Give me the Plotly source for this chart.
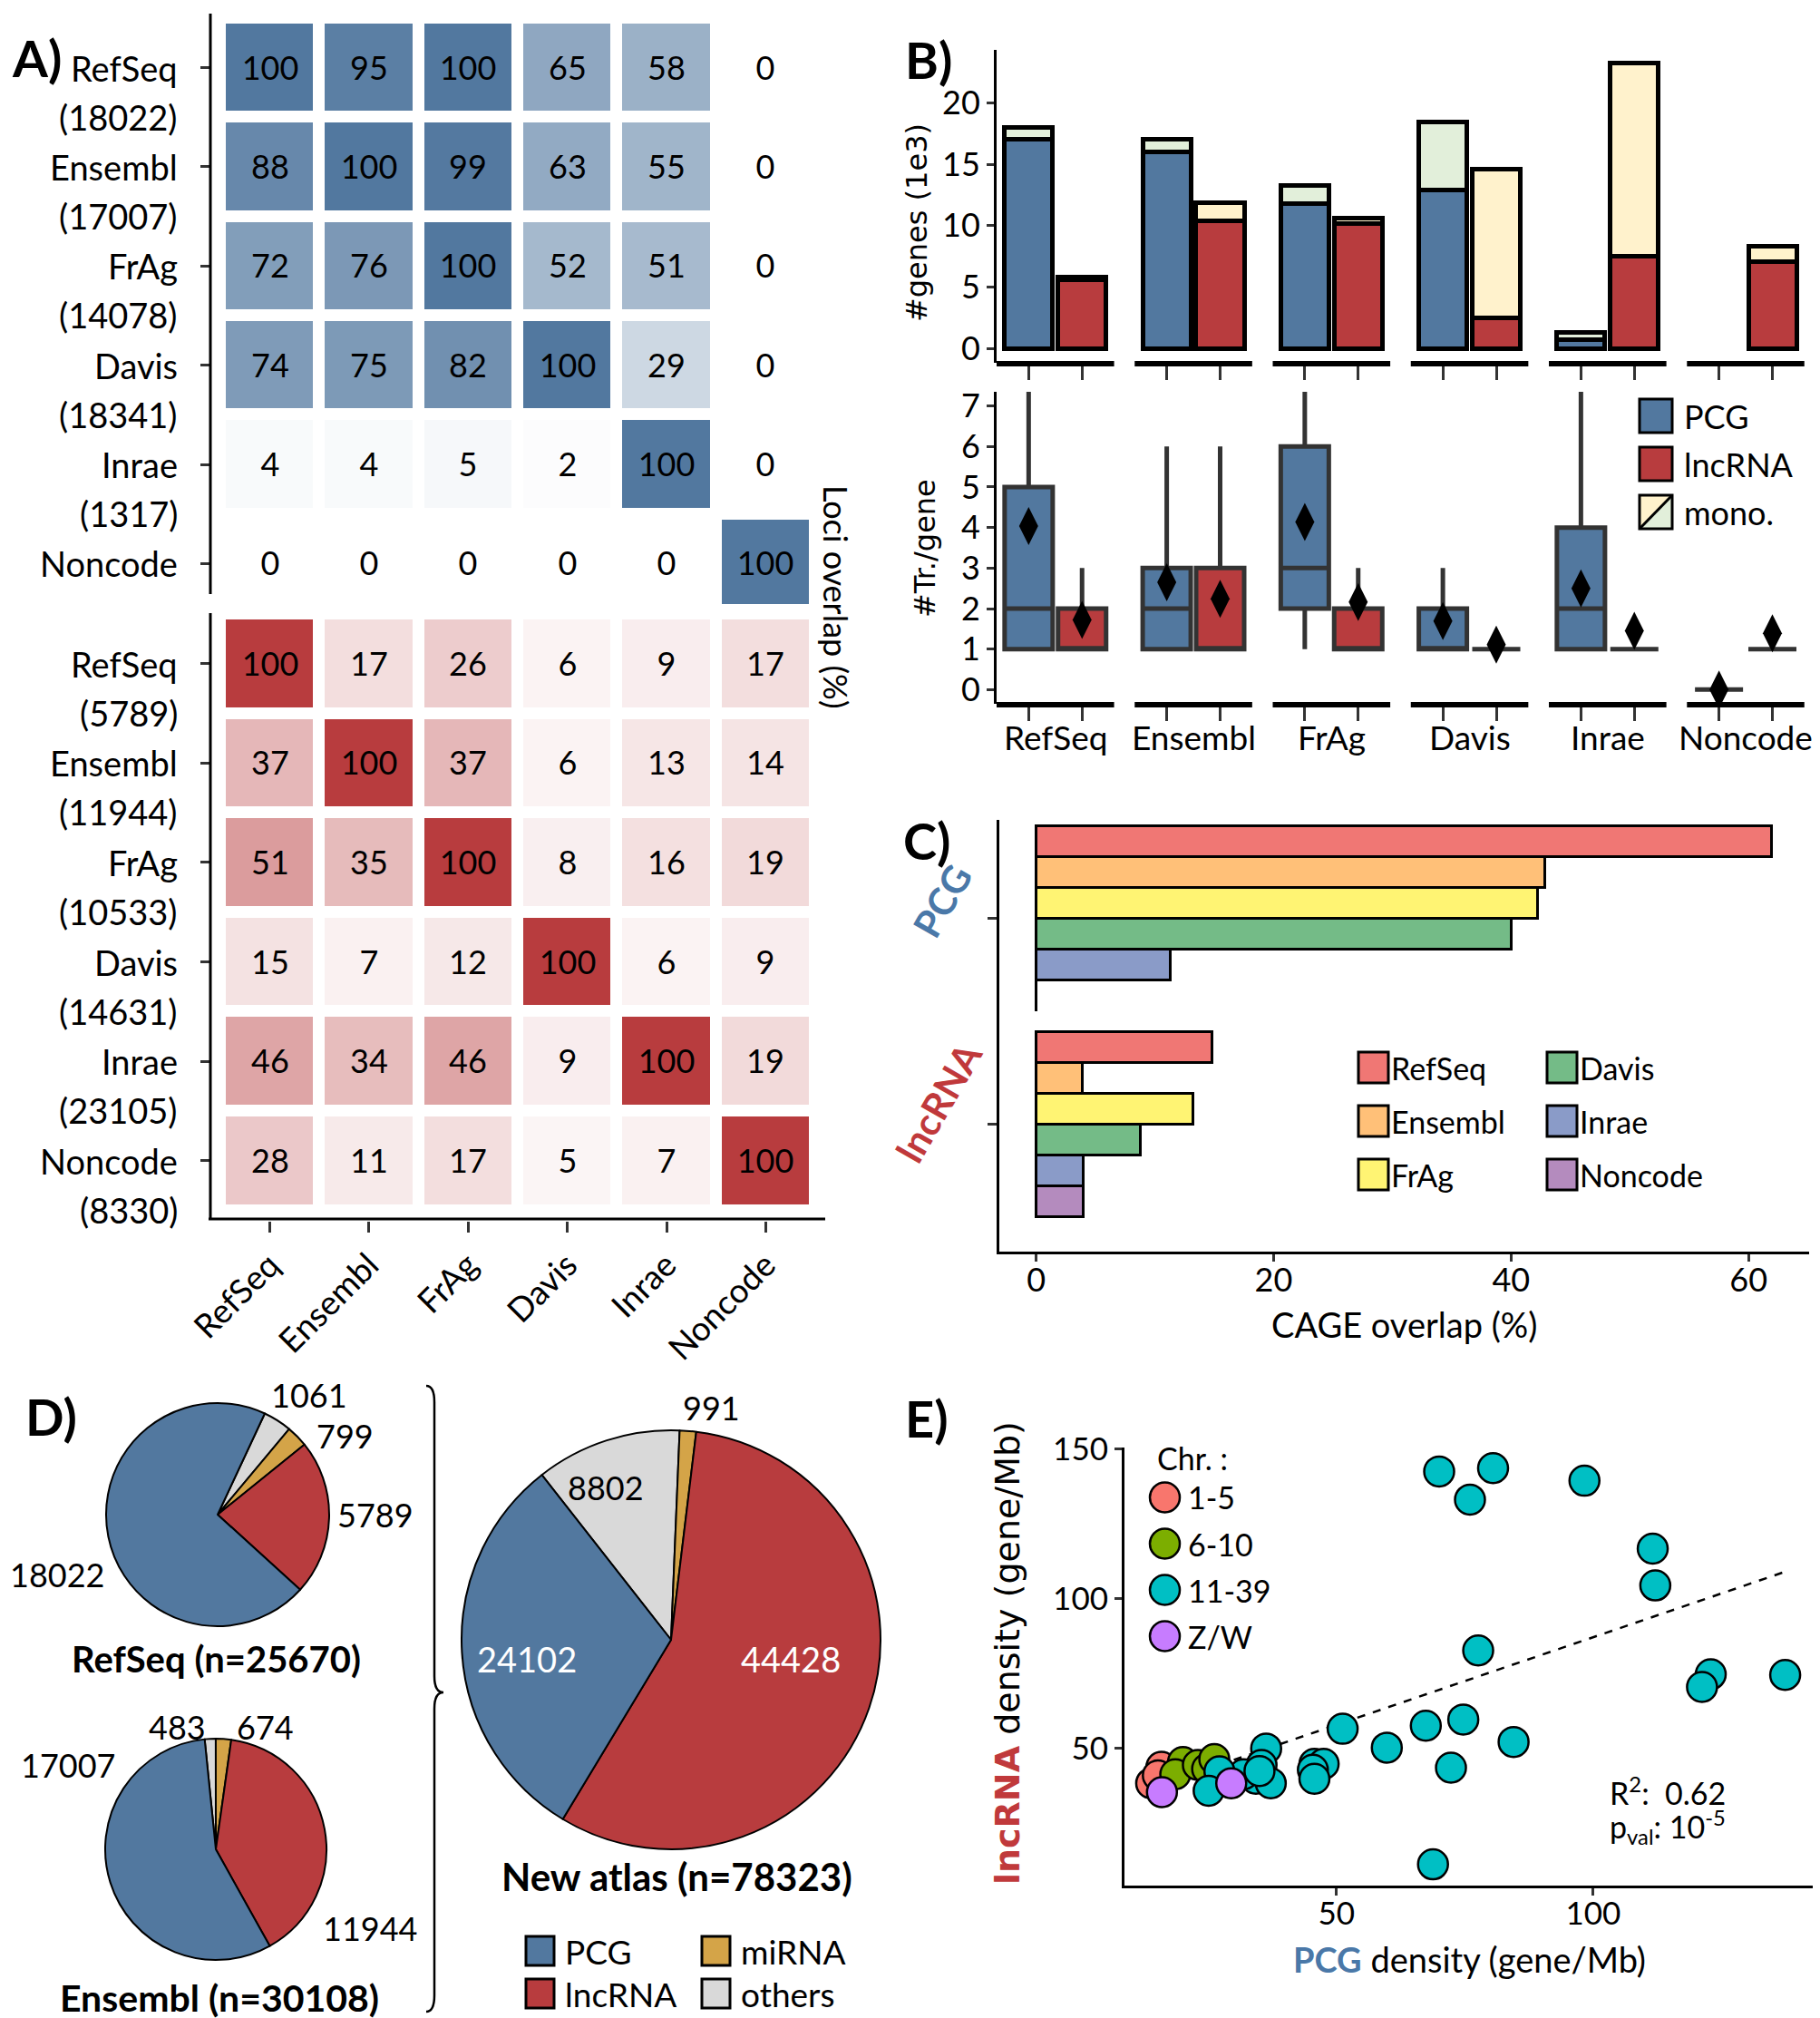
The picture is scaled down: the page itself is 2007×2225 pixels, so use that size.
import plotly.graph_objects as go

# ---------------- data ----------------
sources = ["RefSeq", "Ensembl", "FrAg", "Davis", "Inrae", "Noncode"]
pcg_loci = ["18022", "17007", "14078", "18341", "1317", ""]
lnc_loci = ["5789", "11944", "10533", "14631", "23105", "8330"]

# A) loci overlap (%), rows / columns in `sources` order
pcg_overlap = [
    [100, 95, 100, 65, 58, 0],
    [88, 100, 99, 63, 55, 0],
    [72, 76, 100, 52, 51, 0],
    [74, 75, 82, 100, 29, 0],
    [4, 4, 5, 2, 100, 0],
    [0, 0, 0, 0, 0, 100],
]
lnc_overlap = [
    [100, 17, 26, 6, 9, 17],
    [37, 100, 37, 6, 13, 14],
    [51, 35, 100, 8, 16, 19],
    [15, 7, 12, 100, 6, 9],
    [46, 34, 46, 9, 100, 19],
    [28, 11, 17, 5, 7, 100],
]

# B) number of genes (1e3), multi-exonic + mono-exonic
pcg_multi = [17.0, 16.0, 11.8, 12.9, 0.7, 0]
pcg_mono = [1.0, 1.0, 1.5, 5.5, 0.6, 0]
lnc_multi = [5.6, 10.4, 10.2, 2.5, 7.5, 7.1]
lnc_mono = [0.2, 1.5, 0.4, 12.1, 15.7, 1.2]

# B) transcripts per gene (box stats + mean)
pcg_q1 = [1, 1, 2, 1, 1, 0]
pcg_med = [2, 2, 3, 1, 2, 0]
pcg_q3 = [5, 3, 6, 2, 4, 0]
pcg_lo = [1, 1, 1, 1, 1, 0]
pcg_hi = [11, 6, 12, 3, 8, 0]
pcg_mean = [4.04, 2.65, 4.14, 1.69, 2.5, 0.0]
lnc_q1 = [1, 1, 1, 1, 1, 1]
lnc_med = [1, 1, 1, 1, 1, 1]
lnc_q3 = [2, 3, 2, 1, 1, 1]
lnc_lo = [1, 1, 1, 1, 1, 1]
lnc_hi = [3, 6, 3, 1, 1, 1]
lnc_mean = [1.72, 2.24, 2.16, 1.11, 1.45, 1.39]

# C) CAGE overlap (%)
cage_pcg = [61.9, 42.8, 42.2, 40.0, 11.3, 0]
cage_lnc = [14.8, 3.9, 13.2, 8.8, 4.0, 4.0]
cage_colors = ["#f07774", "#ffc078", "#fff473", "#74bb87", "#8a9bc8", "#b48bbe"]

# D) gene biotypes: PCG, lncRNA, miRNA, others
biotypes = ["PCG", "lncRNA", "miRNA", "others"]
refseq_pie = [18022, 5789, 799, 1061]
ensembl_pie = [17007, 11944, 674, 483]
atlas_pie = [24102, 44428, 991, 8802]
pie_names = ["RefSeq", "Ensembl", "New atlas"]
pie_totals = [25670, 30108, 78323]

# E) density per chromosome (gene/Mb)
chr_groups = ["1-5", "6-10", "11-39", "Z/W"]
pcg_dens = [
    [15.9, 13.9, 15.2],
    [20.1, 18.6, 23.0, 24.8, 26.2],
    [70.0, 80.5, 76.0, 98.3, 111.6, 112.1, 77.6, 122.9, 121.2, 137.4, 51.2, 67.4,
     74.7, 59.8, 84.5, 72.3, 68.8, 45.7, 47.5, 45.4, 45.7, 36.3, 35.4, 34.3, 37.2,
     31.9, 27.2, 25.1, 35.0],
    [16.0, 29.5],
]
lnc_dens = [
    [43.9, 38.4, 41.0],
    [45.5, 41.4, 44.5, 43.2, 46.5],
    [142.6, 143.7, 133.2, 139.5, 116.8, 104.5, 82.8, 74.8, 70.6, 74.6, 56.6, 57.6,
     59.7, 50.3, 52.2, 43.6, 11.3, 44.9, 44.9, 42.9, 39.9, 50.0, 44.5, 39.9, 38.4,
     41.4, 42.4, 35.9, 42.5],
    [35.4, 38.4],
]
trend_x = [30.0, 137.4]
trend_y = [46.2, 109.1]

# ---------------- helpers ----------------
W, H = 2007, 2225
FONT = "Lato"
BLUE = "#52789f"
RED = "#b83c3e"
MONO_PCG = "#e2efda"
MONO_LNC = "#fff2cc"
MIRNA = "#d4a448"
OTHERS = "#d9d9d9"
CHR_COLORS = ["#f8766d", "#7cae00", "#00bfc4", "#c77cff"]


def fx(x):
    return x / W


def fy(y):
    return 1 - y / H


shapes = []
annotations = []


def text(x, y, s, size=36, anchor="left", angle=0, **font):
    annotations.append(dict(text=s, x=fx(x), y=fy(y), xref="paper", yref="paper",
                            xanchor=anchor, yanchor="middle", showarrow=False,
                            textangle=angle, font=dict(size=size, **font)))


def rect(x0, y0, x1, y1, color, lw=3):
    shapes.append(dict(type="rect", xref="paper", yref="paper", x0=fx(x0), x1=fx(x1),
                       y0=fy(y1), y1=fy(y0), fillcolor=color,
                       line=dict(color="black", width=lw)))


def hline(x0, x1, y, lw=3, xref="paper"):
    shapes.append(dict(type="line", xref=xref, yref="paper", x0=x0, x1=x1,
                       y0=fy(y), y1=fy(y), line=dict(color="black", width=lw)))


def vline(x, y0, y1, lw=3):
    shapes.append(dict(type="line", xref="paper", yref="paper", x0=fx(x), x1=fx(x),
                       y0=fy(y0), y1=fy(y1), line=dict(color="black", width=lw)))


fig = go.Figure()

# ---------------- A) heatmaps ----------------
idx = list(range(len(sources)))
for z, col, xa, ya in [(pcg_overlap, BLUE, "x", "y"), (lnc_overlap, RED, "x2", "y2")]:
    fig.add_trace(go.Heatmap(
        z=z, x=idx, y=idx, colorscale=[[0, "white"], [1, col]], zmin=0, zmax=100,
        xgap=13, ygap=13, showscale=False, texttemplate="%{z}",
        textfont=dict(family=FONT, size=36, color="black"), hoverinfo="skip",
        xaxis=xa, yaxis=ya))

for i, s in enumerate(sources):
    for yref, loci in [("y", pcg_loci), ("y2", lnc_loci)]:
        annotations.append(dict(text=s, x=fx(190), xref="paper", xanchor="right",
                                y=i, yref=yref, yanchor="middle", showarrow=False,
                                font=dict(size=38)))
        if loci[i]:
            annotations.append(dict(text=f"({loci[i]})", x=fx(190), xref="paper",
                                    xanchor="right", y=i, yref=yref, yanchor="middle",
                                    yshift=-54, showarrow=False, font=dict(size=38)))

vline(224, 7, 647)
vline(224, 668, 1336)
hline(fx(222), fx(902), 1336)
text(914, 650, "Loci overlap (%)", size=36, anchor="center", angle=90)

# ---------------- B) bars + boxes ----------------
GROUP = 2.585
UNIT = 58.9  # px per x unit in panel B
pos_pcg = [g * GROUP for g in idx]
pos_lnc = [g * GROUP + 1 for g in idx]
b_range = [-0.6, (len(idx) - 1) * GROUP + 1.6]
b_x = [fx(1091), fx(1091 + (b_range[1] - b_range[0]) * UNIT)]

bar_line = dict(color="black", width=5)
for pos, vals, col in [(pos_pcg, pcg_multi, BLUE), (pos_pcg, pcg_mono, MONO_PCG),
                       (pos_lnc, lnc_multi, RED), (pos_lnc, lnc_mono, MONO_LNC)]:
    fig.add_trace(go.Bar(x=pos, y=[v if v else None for v in vals], width=0.9,
                         marker=dict(color=col, line=bar_line),
                         xaxis="x3", yaxis="y3", hoverinfo="skip"))

for pos, q1, med, q3, lo, hi, col in [
        (pos_pcg, pcg_q1, pcg_med, pcg_q3, pcg_lo, pcg_hi, BLUE),
        (pos_lnc, lnc_q1, lnc_med, lnc_q3, lnc_lo, lnc_hi, RED)]:
    fig.add_trace(go.Box(x=pos, q1=q1, median=med, q3=q3, lowerfence=lo, upperfence=hi,
                         width=0.9, fillcolor=col, line=dict(color="#333333", width=5),
                         whiskerwidth=0, boxpoints=False, xaxis="x4", yaxis="y4",
                         hoverinfo="skip"))
fig.add_trace(go.Scatter(x=pos_pcg + pos_lnc, y=pcg_mean + lnc_mean, mode="markers",
                         marker=dict(symbol="diamond-tall", size=30, color="black"),
                         xaxis="x4", yaxis="y4", hoverinfo="skip"))

for g in idx:
    for xr, yy in [("x3", 393), ("x4", 769)]:
        shapes.append(dict(type="line", xref=xr, yref="paper", x0=g * GROUP - 0.6,
                           x1=g * GROUP + 1.6, y0=fy(yy), y1=fy(yy),
                           line=dict(color="black", width=6)))
    annotations.append(dict(text=sources[g], x=g * GROUP + 0.5, xref="x4", y=fy(804),
                            yref="paper", showarrow=False, font=dict(size=37)))

text(1003, 238, "#genes (1e3)", size=32, anchor="center", angle=-90, family="DejaVu Sans")
text(1012, 597, "#Tr./gene", size=32, anchor="center", angle=-90, family="DejaVu Sans")

# B legend
rect(1800, 432, 1836, 469, BLUE)
rect(1800, 485, 1836, 522, RED)
x0, y0, x1, y1 = 1800, 538, 1836, 575
shapes.append(dict(type="path", xref="paper", yref="paper", fillcolor=MONO_LNC,
                   line=dict(width=0),
                   path=f"M{fx(x0)},{fy(y1)} L{fx(x1)},{fy(y0)} L{fx(x0)},{fy(y0)} Z"))
shapes.append(dict(type="path", xref="paper", yref="paper", fillcolor=MONO_PCG,
                   line=dict(width=0),
                   path=f"M{fx(x0)},{fy(y1)} L{fx(x1)},{fy(y1)} L{fx(x1)},{fy(y0)} Z"))
rect(x0, y0, x1, y1, "rgba(0,0,0,0)")
shapes.append(dict(type="line", xref="paper", yref="paper", x0=fx(x0), y0=fy(y1),
                   x1=fx(x1), y1=fy(y0), line=dict(color="black", width=3)))
text(1847, 451, "PCG", size=36)
text(1847, 504, "lncRNA", size=36)
text(1847, 557, "mono.", size=36)

# ---------------- C) CAGE overlap ----------------
n_src = len(sources)
bw = 0.9 / n_src
for k, s in enumerate(sources):
    off = (k - (n_src - 1) / 2) * bw
    fig.add_trace(go.Bar(y=[0 + off, 1 + off], x=[cage_pcg[k], cage_lnc[k]],
                         orientation="h", width=bw,
                         marker=dict(color=cage_colors[k], line=dict(color="black", width=3)),
                         xaxis="x5", yaxis="y5", hoverinfo="skip"))
text(1031, 985, "<b>PCG</b>", size=42, anchor="center", angle=-60, color="#4a78a8")
text(1027, 1207, "<b>lncRNA</b>", size=42, anchor="center", angle=-60, color="#c0393b")
text(1540, 1452, "CAGE overlap (%)", size=38, anchor="center")

leg_pos = [(1490, 1169), (1490, 1228), (1490, 1287), (1698, 1169), (1698, 1228), (1698, 1287)]
for k, s in enumerate(sources):
    lx, ly = leg_pos[k]
    rect(lx, ly - 17, lx + 33, ly + 17, cage_colors[k])
    text(lx + 34, ly, s, size=34)

# ---------------- D) pies ----------------
pie_colors = [OTHERS, MIRNA, RED, BLUE]
for vals, (cx, cy, r), rot in [(refseq_pie, (232, 1662, 123), 25),
                               (ensembl_pie, (230, 2031, 122), -5.8),
                               (atlas_pie, (732, 1800, 231), -38.1)]:
    fig.add_trace(go.Pie(values=vals[::-1], labels=biotypes[::-1], sort=False,
                         direction="clockwise", rotation=rot, textinfo="none",
                         hoverinfo="skip", showlegend=False,
                         marker=dict(colors=pie_colors, line=dict(color="black", width=2)),
                         domain=dict(x=[fx(cx - r), fx(cx + r)], y=[fy(cy + r), fy(cy - r)])))

for x, y, v in [(333, 1530, refseq_pie[3]), (372, 1575, refseq_pie[2]),
                (406, 1662, refseq_pie[1]), (55, 1728, refseq_pie[0]),
                (187, 1896, ensembl_pie[3]), (284, 1896, ensembl_pie[2]),
                (67, 1938, ensembl_pie[0]), (400, 2118, ensembl_pie[1]),
                (776, 1544, atlas_pie[2]), (660, 1632, atlas_pie[3])]:
    text(x, y, str(v), size=36, anchor="center")
text(573, 1821, str(atlas_pie[0]), size=38, anchor="center", color="white")
text(864, 1821, str(atlas_pie[1]), size=38, anchor="center", color="white")
text(230, 1821, f"<b>{pie_names[0]} (n={pie_totals[0]})</b>", size=40, anchor="center")
text(234, 2194, f"<b>{pie_names[1]} (n={pie_totals[1]})</b>", size=41, anchor="center")
text(738, 2061, f"<b>{pie_names[2]} (n={pie_totals[2]})</b>", size=42, anchor="center")

# brace
xa, xm, xt = 462, 471, 481
yt, ym, yb, d = 1520, 1858, 2210, 18
P = lambda x, y: f"{fx(x)},{fy(y)}"
brace = (f"M{P(xa, yt)} Q{P(xm, yt)} {P(xm, yt + d)} L{P(xm, ym - d)} "
         f"Q{P(xm, ym)} {P(xt, ym)} Q{P(xm, ym)} {P(xm, ym + d)} "
         f"L{P(xm, yb - d)} Q{P(xm, yb)} {P(xa, yb)}")
shapes.append(dict(type="path", xref="paper", yref="paper", path=brace,
                   line=dict(color="black", width=2.5)))

# D legend
for (lx, ly), col, s in zip([(572, 2143), (572, 2190), (766, 2143), (766, 2190)],
                            [BLUE, RED, MIRNA, OTHERS], biotypes):
    rect(lx, ly - 16, lx + 31, ly + 16, col)
    text(lx + 41, ly, s, size=37)

# ---------------- E) scatter ----------------
fig.add_trace(go.Scatter(x=trend_x, y=trend_y, mode="lines",
                         line=dict(color="black", width=2.5, dash="dash"),
                         xaxis="x6", yaxis="y6", hoverinfo="skip"))
for gi, g in enumerate(chr_groups):
    fig.add_trace(go.Scatter(x=pcg_dens[gi], y=lnc_dens[gi], mode="markers",
                             marker=dict(size=33, color=CHR_COLORS[gi],
                                         line=dict(color="black", width=2.5)),
                             xaxis="x6", yaxis="y6", name=g, hoverinfo="skip"))

text(1103, 1815, "<span style='color:#c0393b'><b>lncRNA</b></span> density (gene/Mb)",
     size=38, anchor="center", angle=-90, family="DejaVu Sans")
text(1612, 2152, "<span style='color:#4a78a8'><b>PCG</b></span> density (gene/Mb)",
     size=38, anchor="center")
text(1266, 1599, "Chr. :", size=34)
for gi, g in enumerate(chr_groups):
    cy = 1643 + gi * 51
    shapes.append(dict(type="circle", xref="paper", yref="paper", x0=fx(1260), x1=fx(1293),
                       y0=fy(cy + 16.5), y1=fy(cy - 16.5), fillcolor=CHR_COLORS[gi],
                       line=dict(color="black", width=2.5)))
    text(1300, cy, g, size=34)
text(1765, 1967, "R<sup>2</sup>:  0.62", size=34)
text(1765, 2006, "p<sub>val</sub>: 10<sup>-5</sup>", size=34)

# panel letters
for s, x, y in [("A)", 3, 55), ("B)", 988, 57), ("C)", 986, 918), ("D)", 18, 1553), ("E)", 988, 1555)]:
    text(x, y, f"<b>{s}</b>", size=56)

# ---------------- axes ----------------
noline = dict(showgrid=False, zeroline=False)
tickstyle = dict(ticks="outside", tickwidth=3, tickcolor="#333333")
axline = dict(showline=True, linecolor="black", linewidth=3)
hm_x = [fx(224), fx(902)]

fig.update_layout(
    width=W, height=H, margin=dict(l=0, r=0, t=0, b=0),
    paper_bgcolor="white", plot_bgcolor="white", template="none",
    font=dict(family=FONT, color="black", size=36),
    showlegend=False, hovermode=False, barmode="stack", boxmode="overlay",
    xaxis=dict(domain=hm_x, range=[-0.6, 5.6], showticklabels=False, anchor="y", **noline),
    yaxis=dict(domain=[fy(679), fy(1)], range=[5.6, -0.6], tickvals=idx, ticklen=10,
               showticklabels=False, anchor="x", **tickstyle, **noline),
    xaxis2=dict(domain=hm_x, range=[-0.6, 5.6], tickvals=idx, ticktext=sources,
                tickangle=-45, ticklen=12, tickfont=dict(size=37), anchor="y2",
                **tickstyle, **noline),
    yaxis2=dict(domain=[fy(1337.5), fy(658)], range=[5.6, -0.6], tickvals=idx, ticklen=10,
                showticklabels=False, anchor="x2", **tickstyle, **noline),
    xaxis3=dict(domain=b_x, range=b_range, tickvals=pos_pcg + pos_lnc, ticklen=18,
                showticklabels=False, anchor="y3", **tickstyle, **noline),
    yaxis3=dict(domain=[fy(392), fy(47)], range=[-1.16, 24.3], tickvals=[0, 5, 10, 15, 20],
                ticklen=8, tickfont=dict(size=36), anchor="x3", **tickstyle, **axline, **noline),
    xaxis4=dict(domain=b_x, range=b_range, tickvals=pos_pcg + pos_lnc, ticklen=18,
                showticklabels=False, anchor="y4", **tickstyle, **noline),
    yaxis4=dict(domain=[fy(768), fy(424)], range=[-0.35, 7.35], tickvals=list(range(8)),
                ticklen=8, tickfont=dict(size=36), anchor="x4", **tickstyle, **axline, **noline),
    xaxis5=dict(domain=[fx(1094), fx(1987)], range=[-3.1, 65.1], tickvals=[0, 20, 40, 60],
                ticklen=8, tickfont=dict(size=36), ticklabelstandoff=-10, anchor="y5",
                **tickstyle, **axline, **noline),
    yaxis5=dict(domain=[fy(1372), fy(896)], range=[1.62, -0.48], tickvals=[0, 1], ticklen=10,
                showticklabels=False, anchor="x5", **tickstyle, **axline, **noline),
    xaxis6=dict(domain=[fx(1232), fx(1994)], range=[8.7, 143.3], tickvals=[50, 100],
                ticklen=8, tickfont=dict(size=35), ticklabelstandoff=-10, anchor="y6",
                **tickstyle, **axline, **noline),
    yaxis6=dict(domain=[fy(2071), fy(1588)], range=[4.2, 150.6], tickvals=[50, 100, 150],
                ticklen=8, tickfont=dict(size=35), anchor="x6", **tickstyle, **axline, **noline),
    shapes=shapes, annotations=annotations,
)

fig.write_html("out.html")
